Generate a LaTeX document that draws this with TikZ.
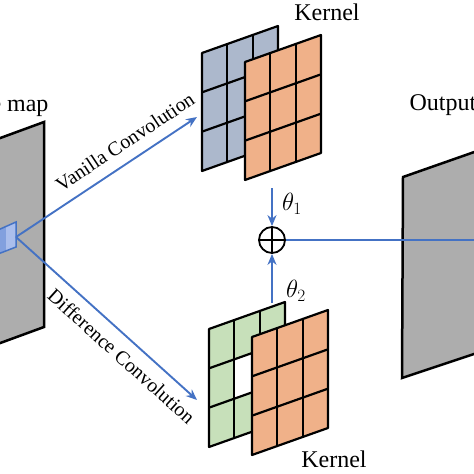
\documentclass[tikz,border=0pt]{standalone}
\usepackage{fontspec}
\setmainfont{Liberation Serif}
\usetikzlibrary{arrows.meta, positioning}

\definecolor{mapgray}{RGB}{173,173,173}
\definecolor{convblue}{RGB}{68,114,196}
\definecolor{patchblue}{RGB}{170,190,236}
\definecolor{patchdark}{RGB}{130,160,222}
\definecolor{vanillagray}{RGB}{172,184,204}
\definecolor{weightorange}{RGB}{240,177,137}
\definecolor{diffgreen}{RGB}{199,224,186}

% one 3x3 kernel, slanted; #1 top left corner, #2 fill, #3 extra fill
\newcommand{\drawkernel}[3]{%
	\begin{scope}[shift={#1}, x={(25.33pt,9pt)}, y={(0pt,-39.33pt)}]
		\fill[#2] (0,0) -- (3,0) -- (3,3) -- (0,3) -- cycle;
		#3
		\foreach \i in {1,2} {
			\draw[cell] (\i,0) -- (\i,3);
			\draw[cell] (0,\i) -- (3,\i);
		}
		\draw[cell] (0,0) -- (3,0) -- (3,3) -- (0,3) -- cycle;
	\end{scope}}

\begin{document}
\begin{tikzpicture}[x=1pt, y=-1pt, font=\fontsize{20}{24}\selectfont]
		\tikzstyle{fmap} = [fill=mapgray, draw=black, line width=2.5pt]
		\tikzstyle{conv} = [convblue, line width=1.9pt, -{Stealth[length=11pt, width=9pt]}]
		\tikzstyle{title} = [font=\fontsize{24}{28}\selectfont, anchor=base]
		\tikzstyle{cell} = [black, line width=2.2pt, line join=round]
		\tikzstyle{weight} = [font=\fontsize{26}{30}\selectfont]

		\useasboundingbox (0,0) rectangle (474,474);
		\clip (0,0) rectangle (474,474);

		% input feature map
		\draw[fmap] (-27,148) -- (44,122) -- (44,327) -- (-27,353) -- cycle;
		\node[title, anchor=base east] (fin) at (52,111) {Feature map};
		\fill[patchdark] (0,229) -- (6,226) -- (6,251) -- (0,253) -- cycle;
		\fill[patchblue] (6,226) -- (16,222) -- (16,247) -- (6,251) -- cycle;
		\draw[convblue, line width=1.5pt] (-2,230) -- (16,222) -- (16,247) -- (-2,254);

		% kernels
		\drawkernel{(202,53)}{vanillagray}{}
		\drawkernel{(245,62)}{weightorange}{}
		\drawkernel{(209,329)}{diffgreen}{\fill[white] (1,1) -- (2,1) -- (2,2) -- (1,2) -- cycle;}
		\drawkernel{(252,337)}{weightorange}{}
		\node[title] (ktop) at (327,20) {Kernel};
		\node[title] (kbot) at (334,467) {Kernel};

		\coordinate (patch) at (16,237);
		\coordinate (vanilla) at (197,117);
		\coordinate (diff) at (197,400);
		\draw[conv] (patch) -- (vanilla) node[text=black, pos=0.66, sloped, above=9pt, inner sep=2pt] {Vanilla Convolution};
		\draw[conv] (patch) -- (diff) node[text=black, pos=0.65, sloped, below=8pt, inner sep=2pt] {Difference Convolution};

		% weighted sum
		\node[circle, draw, line width=1.8pt, minimum size=26pt, inner sep=0pt] (sum) at (272,240) {};
		\draw[line width=1.8pt] (sum.north) -- (sum.south) (sum.west) -- (sum.east);
		\coordinate (w1) at (272,188);
		\coordinate (w2) at (272,303);
		\draw[conv] (w1) -- (sum.north);
		\draw[conv] (w2) -- (sum.south);
		\node[weight] (theta1) at (292,204) {$\theta_1$};
		\node[weight] (theta2) at (296,291) {$\theta_2$};

		% output feature map
		\draw[fmap] (403,177) -- (480,150) -- (480,352) -- (402,378) -- cycle;
		\node[title, anchor=base west] (fout) at (406,110) {Output};
		\coordinate (out) at (480,240);
		\draw[convblue, line width=1.9pt] (sum.east) -- (out);
	\end{tikzpicture}
\end{document}
